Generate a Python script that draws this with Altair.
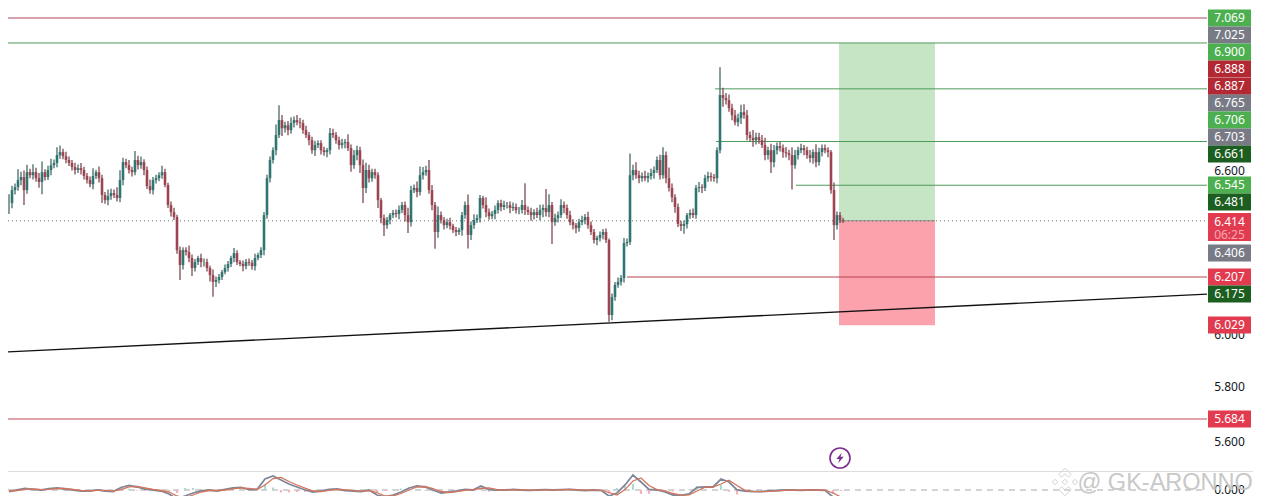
import altair as alt
import pandas as pd

# ---- candles: one bar every 3 pixels-worth of session time
closes = [
6.479,6.527,6.538,6.564,6.575,6.527,6.593,6.582,6.593,6.571,
6.557,6.593,6.575,6.601,6.619,6.627,6.656,6.667,6.652,6.638,
6.627,6.612,6.601,6.608,6.601,6.579,6.564,6.549,6.579,6.593,
6.571,6.509,6.490,6.505,6.516,6.509,6.498,6.564,6.630,6.619,
6.601,6.593,6.638,6.619,6.630,6.601,6.542,6.527,6.564,6.571,
6.582,6.593,6.546,6.472,6.446,6.428,6.306,6.251,6.306,6.299,
6.277,6.240,6.262,6.277,6.262,6.262,6.240,6.214,6.189,6.196,
6.207,6.225,6.240,6.255,6.277,6.295,6.262,6.255,6.247,6.262,
6.259,6.247,6.277,6.288,6.306,6.435,6.571,6.638,6.674,6.730,
6.785,6.755,6.766,6.748,6.774,6.785,6.777,6.774,6.748,6.730,
6.711,6.674,6.693,6.700,6.674,6.667,6.674,6.737,6.730,6.711,
6.693,6.700,6.704,6.682,6.619,6.656,6.674,6.619,6.535,6.601,
6.571,6.593,6.582,6.490,6.424,6.398,6.417,6.435,6.443,6.439,
6.454,6.472,6.435,6.409,6.527,6.535,6.520,6.582,6.593,6.601,
6.527,6.472,6.373,6.435,6.417,6.398,6.409,6.395,6.380,6.373,
6.380,6.435,6.472,6.362,6.398,6.417,6.424,6.498,6.472,6.446,
6.431,6.439,6.454,6.479,6.465,6.472,6.472,6.461,6.465,6.454,
6.454,6.472,6.454,6.446,6.435,6.446,6.435,6.454,6.461,6.446,
6.472,6.409,6.424,6.435,6.472,6.461,6.435,6.409,6.398,6.387,
6.409,6.417,6.428,6.398,6.373,6.343,6.351,6.362,6.373,6.343,
6.067,6.133,6.178,6.189,6.203,6.332,6.336,6.582,6.601,6.582,
6.571,6.579,6.571,6.579,6.590,6.601,6.638,6.582,6.656,6.571,
6.535,6.501,6.465,6.402,6.395,6.402,6.435,6.443,6.435,6.535,
6.538,6.535,6.571,6.579,6.575,6.571,6.674,6.877,6.866,6.858,
6.829,6.803,6.777,6.792,6.814,6.803,6.730,6.719,6.711,6.722,
6.711,6.693,6.656,6.674,6.630,6.674,6.689,6.682,6.667,6.663,
6.656,6.619,6.656,6.674,6.682,6.674,6.656,6.645,6.667,6.630,
6.667,6.682,6.674,6.667,6.527,6.398,6.435,6.417,6.414]

# wick above the candle body, in ten-thousandths of a price unit
upper_wick = [
330,160,130,400,200,240,270,130,290,160,
190,390,110,160,240,130,290,240,120,160,
130,110,160,130,190,120,110,130,290,80,
210,130,110,240,160,130,290,360,160,130,
190,120,330,160,210,110,130,240,110,130,
110,240,130,80,130,160,80,130,110,110,
240,130,110,80,160,130,120,80,210,130,
110,80,130,110,80,190,110,80,130,110,
130,110,160,80,110,110,130,130,110,390,
550,190,130,160,210,130,190,160,120,160,
110,130,160,110,110,130,80,190,160,110,
130,160,110,290,130,190,160,130,210,270,
190,130,130,110,80,130,110,80,110,130,
160,110,130,270,160,130,240,320,190,160,
370,190,110,320,130,110,130,160,80,110,
80,110,130,390,130,210,130,110,80,290,
130,110,160,110,130,160,110,130,160,130,
110,190,800,130,160,110,160,190,130,700,
400,110,160,130,210,130,130,160,110,80,
130,160,110,190,130,110,80,130,110,130,
60,130,110,160,110,190,130,800,190,290,
160,130,190,130,160,130,130,190,290,130,
390,160,110,130,110,130,80,130,160,110,
190,110,130,160,130,110,110,1030,270,190,
210,160,190,160,270,290,190,130,290,160,
160,190,270,130,240,190,130,160,130,190,
130,290,190,130,160,110,130,190,110,290,
160,130,130,110,80,280,130,110,80]

# wick below the candle body, in ten-thousandths of a price unit
lower_wick = [
400,190,160,130,190,550,130,110,160,130,
210,450,130,110,190,110,160,130,110,120,
110,130,160,110,160,130,130,110,190,110,
160,290,130,190,130,110,130,160,190,110,
130,160,110,160,130,190,110,130,160,130,
110,130,80,110,160,110,130,550,160,130,
160,290,130,110,190,160,130,240,550,190,
130,110,80,130,110,160,110,80,190,110,
110,130,160,80,110,190,130,160,130,190,
110,290,160,190,130,160,110,190,130,110,
190,130,210,110,160,130,190,160,110,130,
160,130,190,110,240,130,190,290,550,190,
160,130,130,290,190,400,130,160,110,130,
190,110,240,400,160,110,190,130,160,130,
130,190,620,210,130,160,110,130,110,160,
110,210,130,500,190,130,110,160,130,190,
130,110,190,130,160,110,130,190,110,130,
160,130,190,110,210,160,110,190,270,160,
190,800,130,160,110,190,130,110,160,190,
130,110,160,130,110,130,190,130,160,110,
250,190,130,110,130,160,130,110,190,130,
190,130,110,160,130,210,110,160,130,190,
130,190,210,110,190,290,160,130,110,130,
160,190,110,130,160,130,190,110,320,160,
130,190,110,160,210,130,190,130,240,160,
130,110,190,160,400,190,160,130,210,160,
190,900,130,160,110,190,130,160,210,190,
130,160,110,190,130,550,160,110,80]

# ---- oscillator pane (one reading per 8/3 bars)
osc_main = [
-.015,0,.015,.007,0,.013,.02,.01,0,-.01,-.01,.002,-.01,-.015,.025,.045,.03,.01,0,-.01,
-.04,-.09,-.06,-.03,-.01,0,-.01,.005,.02,.025,.005,.005,.11,.14,.10,.06,.03,0,-.02,-.01,
.005,.01,-.005,-.01,-.015,0,-.05,-.07,-.05,-.02,.02,.04,.03,0,-.03,-.02,-.01,.007,0,.04,
.005,0,0,.005,0,-.003,0,.004,0,.003,.007,0,-.005,0,-.003,-.06,-.03,.05,.15,.08,
.007,0,-.02,-.05,-.055,-.04,.027,.03,.03,.11,.08,0,-.01,-.017,-.015,-.01,-.005,0,0,-.003,
.002,0,-.003,-.07,-.08]
osc_signal = [
-.01,-.005,.008,.01,.004,.006,.015,.015,.005,-.004,-.01,-.004,-.004,-.012,.004,.032,.036,.02,.005,-.005,
-.02,-.06,-.08,-.05,-.02,-.005,-.005,0,.012,.022,.015,.005,.05,.115,.125,.085,.05,.018,-.01,-.015,
-.004,.007,.003,-.006,-.012,-.007,-.025,-.06,-.06,-.035,0,.03,.035,.015,-.015,-.025,-.015,-.003,.004,.015,
.022,.003,0,.002,.003,-.001,-.002,.002,.002,.001,.005,.004,-.002,-.002,-.001,-.025,-.05,.004,.09,.12,
.045,.004,-.01,-.035,-.052,-.048,-.01,.028,.03,.06,.098,.045,-.003,-.013,-.016,-.013,-.008,-.003,0,-.001,
0,.001,-.001,-.03,-.07]

# ---- horizontal levels: price, first bar, last bar, colour
level_price = [7.161, 7.069, 6.900, 6.706, 6.545, 6.207, 5.684]
level_start = [-0.34, -0.34, 235.33, 235.67, 262.33, 206.0, -0.34]
level_end   = [399.33] * 7
level_color = ["#b0485a", "#4f9a5c", "#4f9a5c", "#4f9a5c", "#4f9a5c", "#b8404f", "#c2485a"]

trend_x = [-0.34, 399.33]
trend_price = [5.931, 6.144]

# ---- position tool
entry_price = 6.414
target_price = 7.069
stop_price = 6.029
tool_start = 276.67
tool_end = 308.67

# ---- price-scale tags
tag_text  = ["7.069","7.025","6.900","6.888","6.887","6.765","6.706","6.703","6.661","6.545","6.481","6.406","6.207","6.175","6.029","5.684"]
tag_at    = [7.161,7.098,7.036,6.973,6.910,6.848,6.785,6.723,6.660,6.546,6.483,6.295,6.207,6.144,6.030,5.684]
tag_color = ["#4caf50","#787b86","#4caf50","#b22833","#b22833","#787b86","#4caf50","#787b86","#1b5e20","#4caf50","#1b5e20","#787b86","#e23b50","#1b5e20","#e23b50","#e23b50"]
tick_text = ["6.600", "6.000", "5.800", "5.600"]
tick_at   = [6.597, 5.994, 5.802, 5.599]

W, H = 1245, 488
FONT = "Noto Sans"
xscale = alt.Scale(domain=[-0.3333, 414.6667], nice=False, zero=False)
pscale = alt.Scale(domain=[5.4004, 7.1978], nice=False, zero=False)
oscale = alt.Scale(domain=[-0.06, 0.185], range=[488, 463.5], nice=False, zero=False)
X = lambda f: alt.X(f, type="quantitative", scale=xscale, axis=None)
Y = lambda f: alt.Y(f, type="quantitative", scale=pscale, axis=None)
O = lambda f: alt.Y(f, type="quantitative", scale=oscale, axis=None)

rows = []
prev = closes[0]
for i, (c, u, l) in enumerate(zip(closes, upper_wick, lower_wick)):
    o = prev
    rows.append(dict(i=i, o=o, c=c, h=max(o, c) + u / 10000, l=min(o, c) - l / 10000,
                     col="#2f7570" if c >= o else "#9c4450",
                     wcol="#466a68" if c >= o else "#7d4a50"))
    prev = c
candles = pd.DataFrame(rows)

wicks = alt.Chart(candles).mark_rule(strokeWidth=1.3).encode(
    x=X("i"), y=Y("h"), y2="l", color=alt.Color("wcol:N", scale=None))
bodies = alt.Chart(candles).mark_rule(strokeWidth=2.6).encode(
    x=X("i"), y=Y("o"), y2="c", color=alt.Color("col:N", scale=None))

tool = pd.DataFrame(dict(a=[tool_start] * 2, b=[tool_end] * 2,
                         t=[target_price, entry_price], e=[entry_price, stop_price],
                         col=["#c6e5c5", "#fba2ac"]))
zones = alt.Chart(tool).mark_rect().encode(
    x=X("a"), x2="b", y=Y("t"), y2="e", color=alt.Color("col:N", scale=None))
mid = alt.Chart(pd.DataFrame(dict(a=[tool_start], b=[tool_end], p=[entry_price]))).mark_rule(
    color="#8a8f8a", strokeWidth=1).encode(x=X("a"), x2="b", y=Y("p"))

levels = pd.DataFrame(dict(p=level_price, a=level_start, b=level_end, col=level_color))
level_rules = alt.Chart(levels).mark_rule(strokeWidth=1).encode(
    x=X("a"), x2="b", y=Y("p"), color=alt.Color("col:N", scale=None))
last_line = alt.Chart(pd.DataFrame(dict(a=[-0.34], b=[399.33], p=[entry_price]))).mark_rule(
    color="#6b6b6b", strokeWidth=1, strokeDash=[1, 3]).encode(x=X("a"), x2="b", y=Y("p"))
trend = alt.Chart(pd.DataFrame(dict(x=trend_x, p=trend_price))).mark_line(
    color="#111111", strokeWidth=1.3).encode(x=X("x"), y=Y("p"))

tags = pd.DataFrame(dict(t=tag_text, p=tag_at, col=tag_color))
tags["a"] = 399.67
tags["b"] = 414.0
tags["top"] = tags["p"] + 0.0313
tags["bot"] = tags["p"] - 0.0313
tag_rects = alt.Chart(tags).mark_rect().encode(
    x=X("a"), x2="b", y=Y("top"), y2="bot", color=alt.Color("col:N", scale=None))
tag_texts = alt.Chart(tags.assign(x=406.83)).mark_text(
    font=FONT, fontSize=12, color="#ffffff", baseline="middle", align="center").encode(
    x=X("x"), y=Y("p"), text="t:N")

ticks = pd.DataFrame(dict(t=tick_text, p=tick_at, x=[406.83] * 4))
tick_texts = alt.Chart(ticks).mark_text(
    font=FONT, fontSize=12, color="#131722", baseline="middle", align="center").encode(
    x=X("x"), y=Y("p"), text="t:N")

live = pd.DataFrame(dict(a=[399.67], b=[414.0], top=[6.4425], bot=[6.3395]))
live_rect = alt.Chart(live).mark_rect(color="#e23b50").encode(x=X("a"), x2="b", y=Y("top"), y2="bot")
live_t1 = alt.Chart(pd.DataFrame(dict(x=[406.83], p=[6.410], t=["6.414"]))).mark_text(
    font=FONT, fontSize=12, color="#ffffff", baseline="middle", align="center").encode(x=X("x"), y=Y("p"), text="t:N")
live_t2 = alt.Chart(pd.DataFrame(dict(x=[406.83], p=[6.362], t=["06:25"]))).mark_text(
    font=FONT, fontSize=12, color="#f6a9b4", baseline="middle", align="center").encode(x=X("x"), y=Y("p"), text="t:N")

# ---- lower pane
ox = [(8 * k) / 3 for k in range(len(osc_main))]
osc = pd.DataFrame(dict(x=ox, m=osc_main, s=osc_signal))
osc["gap"] = osc["m"] - osc["s"]
osc["zero"] = 0.0
osc["hcol"] = ["#a9dcd3" if v >= 0 else "#f7b3bd" for v in osc["gap"]]
hist = alt.Chart(osc).mark_rule(strokeWidth=2.2).encode(
    x=X("x"), y=O("gap"), y2="zero", color=alt.Color("hcol:N", scale=None))
line_m = alt.Chart(osc).mark_line(color="#7d8799", strokeWidth=1.8).encode(x=X("x"), y=O("m"))
line_s = alt.Chart(osc).mark_line(color="#d4745c", strokeWidth=1.3).encode(x=X("x"), y=O("s"))
sep = alt.Chart(pd.DataFrame(dict(a=[-0.34], b=[414.7], p=[0.185]))).mark_rule(
    color="#dddddd", strokeWidth=1).encode(x=X("a"), x2="b", y=O("p"))
zero = alt.Chart(pd.DataFrame(dict(a=[-0.34], b=[399.33], p=[0.0]))).mark_rule(
    color="#a8a8a8", strokeWidth=1, strokeDash=[6, 5]).encode(x=X("a"), x2="b", y=O("p"))
zero_text = alt.Chart(pd.DataFrame(dict(x=[406.83], p=[0.0], t=["0.000"]))).mark_text(
    font=FONT, fontSize=12, color="#131722", baseline="middle", align="center").encode(x=X("x"), y=O("p"), text="t:N")
mark_at = pd.DataFrame(dict(x=[277.0], p=[0.32]))
BOLT = "M0.35,-1 L-0.7,0.2 L-0.1,0.2 L-0.35,1 L0.7,-0.25 L0.1,-0.25 Z"
ring = alt.Chart(mark_at).mark_point(shape="circle", size=400, filled=False, color="#7b2d8e", strokeWidth=1.6, opacity=1).encode(
    x=X("x"), y=O("p"))
bolt = alt.Chart(mark_at).mark_point(shape=BOLT, size=110, filled=True, color="#7b2d8e", opacity=1).encode(
    x=X("x"), y=O("p"))
LOGO = ("M0,-1 L0.45,-0.55 L0.25,-0.35 L0,-0.6 L-0.25,-0.35 L-0.45,-0.55 Z "
        "M0,-0.2 L0.2,0 L0,0.2 L-0.2,0 Z "
        "M0.72,-0.2 L0.92,0 L0.72,0.2 L0.52,0 Z M-0.72,-0.2 L-0.52,0 L-0.72,0.2 L-0.92,0 Z "
        "M0,1 L0.45,0.55 L0.25,0.35 L0,0.6 L-0.25,0.35 L-0.45,0.55 Z")
logo = alt.Chart(pd.DataFrame(dict(x=[352.0], p=[0.08]))).mark_point(
    shape=LOGO, size=760, filled=False, color="#d2d2d2", strokeWidth=1, opacity=1).encode(x=X("x"), y=O("p"))
wm_text = alt.Chart(pd.DataFrame(dict(x=[414.6], p=[0.07], t=["@ GK-ARONNO"]))).mark_text(
    font="Liberation Sans", fontSize=23.5, color="#c8c8c8", baseline="middle", align="right").encode(x=X("x"), y=O("p"), text="t:N")

chart = alt.layer(
    zones, mid, last_line, level_rules, trend, wicks, bodies,
    tick_texts, tag_rects, tag_texts, live_rect, live_t1, live_t2,
    sep, zero, hist, line_m, line_s, zero_text, ring, bolt, logo, wm_text,
).resolve_scale(y="independent").properties(
    width=W, height=H, padding=0, autosize=alt.AutoSizeParams(type="none"),
    background="#ffffff",
).configure_view(stroke=None)

chart.save("out.html", embed_options={"renderer": "svg", "actions": False})
